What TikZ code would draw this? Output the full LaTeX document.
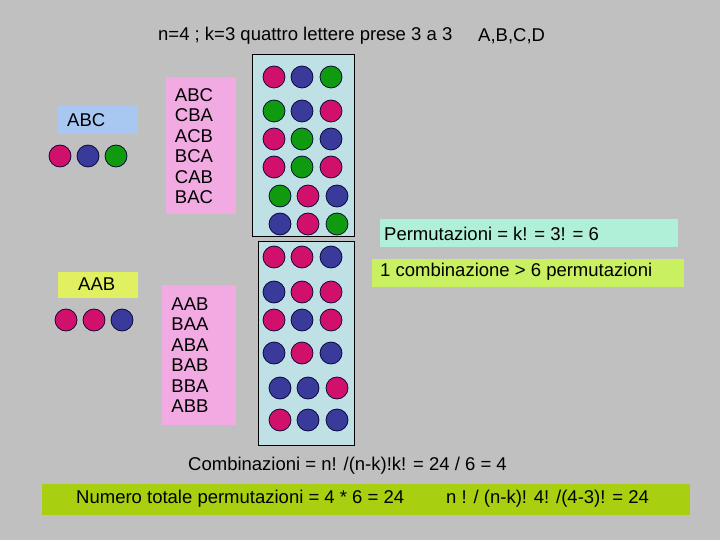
\documentclass[tikz,border=0pt]{standalone}
\usepackage{fontspec}
\setmainfont{Liberation Sans}
\definecolor{bg}{HTML}{C0C0C0}
\definecolor{pk}{HTML}{D0106A}
\definecolor{bl}{HTML}{3A3A9A}
\definecolor{gr}{HTML}{109A10}
\definecolor{pinkbox}{HTML}{F2AAE2}
\definecolor{bluebox}{HTML}{A8C8F2}
\definecolor{mintbox}{HTML}{B0F0D8}
\definecolor{yelbox}{HTML}{E0F060}
\definecolor{limebox}{HTML}{C8F060}
\definecolor{barbox}{HTML}{A8D010}
\definecolor{panel}{HTML}{BFE0E4}
\begin{document}
\begin{tikzpicture}[x=1pt,y=-1pt,
 txt/.style={font=\fontsize{18.5}{20.5}\selectfont,inner sep=0pt},
 ball/.style={circle,draw=black!80!blue,line width=0.7pt,minimum size=22pt,inner sep=0pt},
 P/.style={ball,fill=pk},B/.style={ball,fill=bl},G/.style={ball,fill=gr},
 pan/.style={draw=black,line width=1pt,fill=panel}]
\fill[bg] (0,0) rectangle (720,540);
\useasboundingbox (0,0) rectangle (720,540);
\node[txt,anchor=west] (t1) at (158,36) {n=4 ; k=3 quattro lettere prese 3 a 3};
\node[txt,anchor=west] (t2) at (478,36) {A,B,C,D};
% ABC
\fill[bluebox] (58,106) rectangle (138,134);
\node[txt,anchor=west] (abc) at (67,120) {ABC};
\node[P] (a1) at (60,156) {}; \node[B] (a2) at (88,156) {}; \node[G] (a3) at (116,156) {};
\fill[pinkbox] (166,77) rectangle (236,214);
\node[txt,align=center] (l1) at (194,146) {ABC\\CBA\\ACB\\BCA\\CAB\\BAC};
% top panel
\draw[pan] (252,55) rectangle (354,236);
\node[P] at (274,77){};\node[B] at (302,77){};\node[G] at (331,77){};
\node[G] at (274,111){};\node[B] at (302,111){};\node[P] at (331,111){};
\node[P] at (274,139){};\node[G] at (302,139){};\node[B] at (331,139){};
\node[P] at (274,167){};\node[G] at (302,167){};\node[P] at (331,167){};
\node[G] at (280,196){};\node[P] at (308,196){};\node[B] at (337,196){};
\node[B] at (280,224){};\node[P] at (308,224){};\node[G] at (337,224){};
\fill[mintbox] (380,219) rectangle (678,247);
\node[txt,anchor=west] (perm) at (384,234) {Permutazioni = k! = 3! = 6};
% bottom panel
\draw[pan] (258,241) rectangle (354,445);
\node[P] at (274,257){};\node[P] at (302,257){};\node[B] at (331,257){};
\node[B] at (274,292){};\node[P] at (302,292){};\node[P] at (331,292){};
\node[P] at (274,320){};\node[B] at (302,320){};\node[P] at (331,320){};
\node[B] at (274,353){};\node[P] at (302,353){};\node[B] at (331,353){};
\node[B] at (280,388){};\node[B] at (308,388){};\node[P] at (337,388){};
\node[P] at (280,420){};\node[B] at (308,420){};\node[B] at (337,420){};
\fill[limebox] (372,259) rectangle (684,287);
\node[txt,anchor=west] (comb) at (380,272) {1 combinazione > 6 permutazioni};
% AAB
\fill[yelbox] (58,272) rectangle (138,298);
\node[txt,anchor=west] (aab) at (78,284) {AAB};
\node[P] at (66,320){}; \node[P] at (94,320){}; \node[B] at (122,320){};
\fill[pinkbox] (162,285) rectangle (236,425);
\node[txt,align=center] (l2) at (190,355) {AAB\\BAA\\ABA\\BAB\\BBA\\ABB};
\node[txt,anchor=west] (c2) at (188,466) {Combinazioni = n! /(n-k)!k! = 24 / 6 = 4};
\fill[barbox] (42,484) rectangle (690,515);
\node[txt,anchor=west] (n1) at (76,499) {Numero totale permutazioni = 4 * 6 = 24};
\node[txt,anchor=west] (n2) at (446,499) {n ! / (n-k)! 4! /(4-3)! = 24};
\end{tikzpicture}
\end{document}
